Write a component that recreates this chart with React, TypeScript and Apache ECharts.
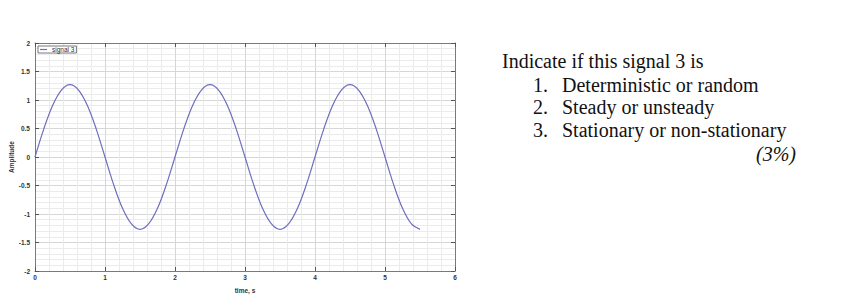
import React, { useEffect, useRef } from "react";
import * as echarts from "echarts";

const times = [
  0, 0.125, 0.25, 0.375, 0.5, 0.625, 0.75, 0.875, 1, 1.125, 1.25, 1.375, 1.5, 1.625, 1.75, 1.875,
  2, 2.125, 2.25, 2.375, 2.5, 2.625, 2.75, 2.875, 3, 3.125, 3.25, 3.375, 3.5, 3.625, 3.75, 3.875,
  4, 4.125, 4.25, 4.375, 4.5, 4.625, 4.75, 4.875, 5, 5.125, 5.25, 5.375, 5.5,
];
const amplitude = [
  0, 0.49, 0.9, 1.17, 1.27, 1.17, 0.9, 0.49, 0, -0.49, -0.9, -1.17, -1.27, -1.17, -0.9, -0.49,
  0, 0.49, 0.9, 1.17, 1.27, 1.17, 0.9, 0.49, 0, -0.49, -0.9, -1.17, -1.27, -1.17, -0.9, -0.49,
  0, 0.49, 0.9, 1.17, 1.27, 1.17, 0.9, 0.49, 0, -0.49, -0.9, -1.17, -1.27,
];
const seriesName = "signal 3";
const xAxisName = "time, s";
const yAxisName = "Amplitude";
const questionTitle = "Indicate if this signal 3 is";
const questionNumbers = ["1.", "2.", "3."];
const questionItems = ["Deterministic or random", "Steady or unsteady", "Stationary or non-stationary"];
const questionMark = "(3%)";

export default function App() {
  const ref = useRef<HTMLDivElement>(null);
  useEffect(() => {
    document.body.style.margin = "0";
    const chart = echarts.init(ref.current!, undefined, { renderer: "svg" });
    const tickFont = {
      fontSize: 6.5,
      fontWeight: "bold" as const,
      color: "#333",
      fontFamily: "Liberation Sans, Arial, sans-serif",
    };
    const axisLine = { show: true, onZero: false, lineStyle: { color: "#7a7a7a", width: 1 } };
    const axisTick = { show: true, inside: true, length: 4, lineStyle: { color: "#555" } };
    const serif = "Liberation Serif, Times New Roman, serif";
    const lineY = [84.5, 107, 130];
    const graphics: any[] = [
      {
        type: "text",
        x: 502,
        y: 60.5,
        style: { text: questionTitle, font: `20px ${serif}`, fill: "#111", verticalAlign: "middle" },
      },
    ];
    questionNumbers.forEach((n, i) => {
      graphics.push({
        type: "text",
        x: 533,
        y: lineY[i],
        style: { text: n, font: `20px ${serif}`, fill: "#111", verticalAlign: "middle" },
      });
      graphics.push({
        type: "text",
        x: 562,
        y: lineY[i],
        style: { text: questionItems[i], font: `20px ${serif}`, fill: "#111", verticalAlign: "middle" },
      });
    });
    graphics.push({
      type: "text",
      x: 796,
      y: 154,
      style: {
        text: questionMark,
        font: `italic 20px ${serif}`,
        fill: "#111",
        align: "right",
        verticalAlign: "middle",
      },
    });

    chart.setOption({
      animation: false,
      backgroundColor: "#fff",
      grid: { left: 35, right: 393, top: 43, bottom: 37, containLabel: false },
      legend: {
        data: [seriesName],
        left: 38,
        top: 46,
        icon: "rect",
        backgroundColor: "#fff",
        borderColor: "#555",
        borderWidth: 0.8,
        borderRadius: 0,
        padding: [0, 2, 0, 2],
        itemWidth: 7,
        itemHeight: 1.2,
        itemGap: 0,
        textStyle: {
          fontSize: 6.5,
          color: "#333",
          fontFamily: "Liberation Sans, Arial, sans-serif",
          padding: [1, 0, 0, 0],
        },
      },
      xAxis: [
        {
          type: "value",
          min: 0,
          max: 6,
          interval: 1,
          name: xAxisName,
          nameLocation: "middle",
          nameGap: 16,
          nameTextStyle: tickFont,
          axisLine,
          axisTick,
          axisLabel: { ...tickFont, margin: 3 },
          splitLine: { show: true, lineStyle: { color: "#d6d6d6", width: 1 } },
          minorTick: { show: false, splitNumber: 5 },
          minorSplitLine: { show: true, lineStyle: { color: "#ebebeb", width: 1 } },
        },
        {
          type: "value",
          min: 0,
          max: 6,
          interval: 1,
          position: "top",
          axisLine,
          axisTick,
          axisLabel: { show: false },
          splitLine: { show: false },
        },
      ],
      yAxis: [
        {
          type: "value",
          min: -2,
          max: 2,
          interval: 0.5,
          position: "left",
          name: yAxisName,
          nameLocation: "middle",
          nameGap: 20,
          nameRotate: 90,
          nameTextStyle: tickFont,
          axisLine,
          axisTick,
          axisLabel: { ...tickFont, margin: 5 },
          splitLine: { show: true, lineStyle: { color: "#d6d6d6", width: 1 } },
          minorTick: { show: false, splitNumber: 5 },
          minorSplitLine: { show: true, lineStyle: { color: "#ebebeb", width: 1 } },
        },
        {
          type: "value",
          min: -2,
          max: 2,
          interval: 0.5,
          position: "right",
          axisLine,
          axisTick,
          axisLabel: { show: false },
          splitLine: { show: false },
        },
      ],
      series: [
        {
          name: seriesName,
          type: "line",
          xAxisIndex: 0,
          yAxisIndex: 0,
          data: times.map((t, i) => [t, amplitude[i]]),
          smooth: 0.35,
          symbol: "none",
          lineStyle: { color: "#6e6ebe", width: 1.2 },
          itemStyle: { color: "#6e6ebe" },
        },
      ],
      graphic: graphics,
    });
    return () => chart.dispose();
  }, []);
  return <div ref={ref} style={{ width: 848, height: 308 }} />;
}
